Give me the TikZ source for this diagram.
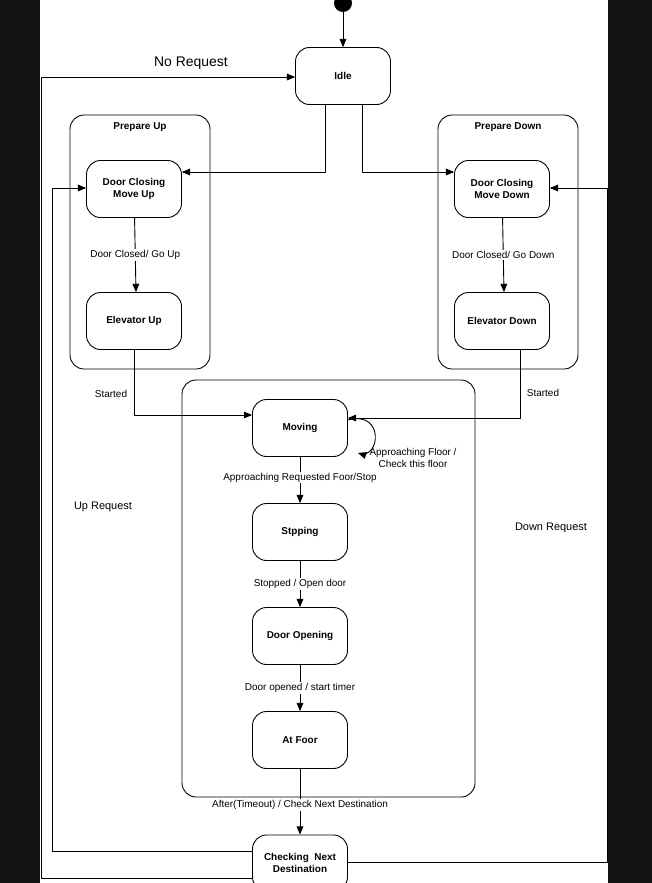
\documentclass[tikz,border=0pt]{standalone}
\usepackage{fontspec}
\setmainfont{Liberation Sans}
\usetikzlibrary{arrows,positioning,calc}
\begin{document}
\begin{tikzpicture}[>=triangle 45,x=1bp,y=-1bp,line join=bevel,
  state/.style={draw,rounded corners=14bp,minimum width=95bp,minimum height=57bp,
    align=center,font=\fontsize{10}{12}\selectfont\bfseries},
  group/.style={draw,rounded corners=14bp},
  lbl/.style={font=\fontsize{10}{12}\selectfont,inner sep=1bp},
  big/.style={font=\fontsize{14}{16}\selectfont}]
\pgfsetlinewidth{0.9bp}
\useasboundingbox (0,0) rectangle (652,883);
\fill[black!93] (0,0) rectangle (652,883);
\fill[white] (40,0) rectangle (608,883);
\begin{scope}
\clip (40,0) rectangle (608,883);
% groups
\draw[group] (70,115) rectangle (210,369);
\draw[group] (438,115) rectangle (578,369);
\draw[group] (182,380) rectangle (475,797);
\node[font=\fontsize{10}{12}\selectfont\bfseries] (pu) at (140,127) {Prepare Up};
\node[font=\fontsize{10}{12}\selectfont\bfseries] (pd) at (508,127) {Prepare Down};
% states
\fill (343,3) circle (9bp);
\coordinate (init) at (343,12);
\node[state] (idle) at (343,76) {Idle};
\node[state] (dcmu) at (134,189) {Door Closing\\Move Up};
\node[state] (eu) at (134,321) {Elevator Up};
\node[state] (dcmd) at (502,189) {Door Closing\\Move Down};
\node[state] (ed) at (502,321) {Elevator Down};
\node[state] (mov) at (300,428) {Moving};
\node[state] (stp) at (300,532) {Stpping};
\node[state] (dop) at (300,636) {Door Opening};
\node[state] (atf) at (300,740) {At Foor};
\node[state,minimum height=56bp] (chk) at (300,863) {Checking\ \ Next\\Destination};
% transitions
\draw[->] (init) -- (idle);
\draw[->] (idle.south -| 325,0) |- (dcmu.east |- 0,172);
\draw[->] (idle.south -| 362,0) |- (dcmd.west |- 0,172);
\draw[->] (dcmu) -- node[lbl,fill=white] {Door Closed/ Go Up} ($(eu.north)+(2,0)$);
\draw[->] (dcmd) -- node[lbl,fill=white] {Door Closed/ Go Down} ($(ed.north)+(2,0)$);
\draw[->] (eu) |- (mov.west |- 0,415);
\draw[->] (ed.south -| 520,0) |- (mov.east |- 0,418);
\node[lbl] (st1) at (111,394) {Started};
\node[lbl] (st2) at (543,393) {Started};
\draw[->] ($(mov.east)+(0,-8)$) .. controls (385,410) and (380,460) .. ($(mov.south east)+(10,-4)$);
\node[lbl,align=center] (apf) at (413,458) {Approaching Floor /\\Check this floor};
\draw[->] (mov) -- node[lbl,fill=white,pos=0.45] {Approaching Requested Foor/Stop} (stp);
\draw[->] (stp) -- node[lbl,fill=white] {Stopped / Open door} (dop);
\draw[->] (dop) -- node[lbl,fill=white] {Door opened / start timer} (atf);
\draw[->] (atf) -- node[lbl,fill=white,pos=0.55] {After(Timeout) / Check Next Destination} (chk);
% requests
\draw[->] (chk.west |- 0,851) -| (52,188) -- (dcmu.west |- 0,188);
\draw[->] (chk.east |- 0,862) -| (607,188) -- (dcmd.east |- 0,188);
\draw[->] (chk.west |- 0,878) -| (41,77) -- (idle.west |- 0,77);
\node[big] (nr) at (191,63) {No Request};
\node[lbl,font=\fontsize{11}{13}\selectfont] (ur) at (103,507) {Up Request};
\node[lbl,font=\fontsize{11}{13}\selectfont] (dr) at (551,528) {Down Request};
\end{scope}
\end{tikzpicture}
\end{document}
